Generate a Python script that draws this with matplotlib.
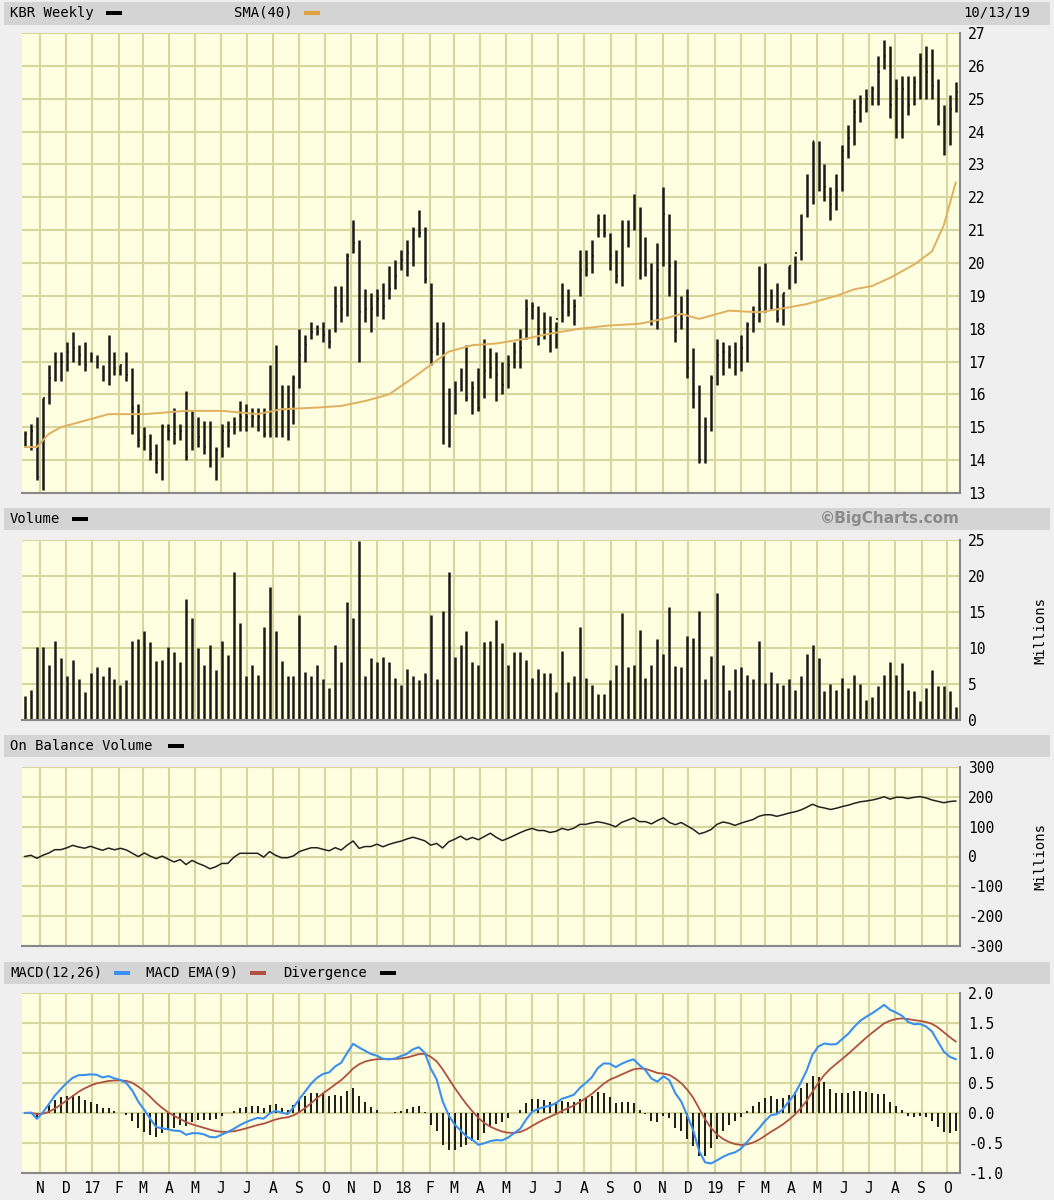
import numpy as np
import pandas as pd
import matplotlib
matplotlib.use("Agg")
import matplotlib.pyplot as plt
import matplotlib.dates as mdates
from matplotlib.patches import Rectangle

highs = [14.9,15.1,15.3,15.9,16.9,17.3,17.3,17.6,17.9,17.5,17.6,17.3,17.2,16.9,17.8,17.3,16.9,17.3,16.8,15.7,
         15.0,14.8,14.5,15.1,15.1,15.6,15.1,16.1,15.5,15.3,15.2,15.2,14.4,15.1,15.2,15.3,15.8,15.7,15.6,15.6,
         15.6,16.9,17.5,16.3,16.3,16.6,18.0,17.8,18.2,18.1,18.2,18.0,19.3,19.3,20.3,21.3,20.7,19.2,19.1,19.2,
         19.4,19.9,20.1,20.4,20.7,21.1,21.6,21.1,19.4,18.2,18.2,16.2,16.4,16.8,17.5,16.4,16.8,17.7,17.4,17.3,
         17.0,17.2,17.6,18.0,18.9,18.8,18.7,18.5,18.4,18.2,19.4,19.2,18.9,20.4,20.4,20.7,21.5,21.5,20.9,20.4,
         21.3,21.3,22.1,21.7,20.8,20.0,20.6,22.3,21.5,20.1,19.0,19.2,17.4,16.3,15.3,16.6,17.7,17.6,17.5,17.6,
         17.8,18.2,18.7,19.9,20.0,19.2,19.4,19.1,19.9,20.2,21.5,22.7,23.7,23.7,23.0,22.3,22.7,23.6,24.2,25.0,
         25.1,25.3,25.4,26.3,26.8,26.6,25.6,25.7,25.7,25.7,26.4,26.6,26.5,25.6,24.8,25.1,25.5]
lows = [14.4,14.3,13.4,13.1,15.7,16.4,16.4,16.7,17.0,16.9,16.7,17.0,16.8,16.4,16.3,16.6,16.6,16.4,14.8,14.4,
        14.3,14.0,13.6,13.4,14.6,14.5,14.6,14.0,14.3,14.4,14.2,13.8,13.4,14.1,14.4,14.8,14.9,14.9,15.0,14.9,
        14.7,14.7,14.7,14.7,14.6,15.1,16.2,17.0,17.7,17.8,17.6,17.4,17.9,18.2,18.4,20.3,17.0,18.2,17.9,18.4,
        18.3,18.9,19.2,19.8,19.6,19.9,20.8,19.4,16.9,17.2,14.5,14.4,15.4,16.1,15.8,15.4,15.5,15.9,16.5,15.8,
        16.0,16.2,16.8,16.8,17.7,18.3,17.5,17.7,17.3,17.4,18.2,18.4,18.1,19.0,19.6,19.7,20.8,20.8,19.8,19.4,
        19.3,20.5,21.0,19.5,19.6,18.1,18.0,19.9,19.0,17.6,18.0,16.5,15.6,13.9,13.9,14.9,16.3,16.6,16.8,16.6,
        16.7,17.0,17.9,18.2,18.5,18.6,18.2,18.1,19.2,19.4,20.1,21.4,21.8,22.2,21.9,21.3,21.6,22.2,23.2,23.6,
        24.3,24.6,24.8,24.8,25.9,24.4,23.8,23.8,24.5,24.8,25.0,25.0,25.0,24.2,23.3,23.6,24.6]
closes = [14.8,14.9,13.5,15.9,16.5,17.0,17.0,17.3,17.4,17.2,16.9,17.1,17.0,16.6,17.4,16.8,16.9,16.6,15.6,14.6,
          14.7,14.2,13.9,15.0,14.9,14.8,14.9,14.1,15.0,14.7,14.4,14.0,14.3,14.9,14.9,15.1,15.3,15.3,15.3,15.3,
          14.8,16.0,15.7,14.9,14.9,16.5,17.2,17.5,17.9,17.9,17.8,17.6,18.7,18.6,20.2,20.6,18.5,18.6,18.6,18.9,
          18.7,19.2,19.6,20.1,20.3,21.0,20.9,19.5,17.3,17.7,15.0,15.7,16.0,16.3,15.9,16.2,15.6,16.7,16.8,16.6,
          16.3,16.9,17.3,17.4,18.6,18.7,18.0,18.0,17.9,18.3,18.8,18.5,18.7,19.8,19.8,20.2,21.3,20.9,20.2,19.6,
          21.0,21.1,21.2,19.8,19.8,19.0,19.8,21.5,19.9,17.9,18.3,16.8,16.0,14.0,15.0,16.5,17.2,17.3,17.2,17.0,
          17.4,18.1,18.4,18.6,19.0,19.0,18.3,19.1,19.9,20.3,21.4,22.2,23.7,22.9,22.3,21.8,22.2,23.4,23.8,24.6,
          24.9,25.0,25.3,25.8,26.3,24.8,25.3,25.3,24.8,25.5,26.2,25.8,25.4,24.3,24.0,24.7,25.2]
volume = [3.4,4.2,10.2,10.2,7.7,11.0,8.6,6.1,8.4,5.7,3.9,6.5,7.3,6.1,7.3,5.7,4.9,5.5,11.0,11.3,
          12.3,10.8,8.2,8.4,10.2,9.4,8.0,16.8,14.1,10.0,7.7,10.4,6.9,11.0,9.0,20.5,13.5,6.1,7.7,6.3,
          12.9,18.5,12.3,8.2,6.1,6.1,14.6,6.7,6.1,7.6,5.7,4.5,10.4,8.0,16.4,14.1,24.8,6.1,8.6,8.0,
          8.8,8.0,5.9,4.9,7.1,6.1,5.5,6.5,14.6,5.7,15.2,20.5,8.8,10.4,12.3,8.0,7.7,10.8,11.0,13.9,
          10.7,7.7,9.4,9.4,8.4,5.9,7.1,6.5,6.5,3.9,9.6,5.3,6.1,12.9,5.9,4.9,3.6,3.6,5.5,7.7,
          14.9,7.3,7.7,12.5,5.9,7.6,11.3,9.2,15.7,7.5,7.3,11.6,11.4,15.1,5.7,8.9,17.6,7.7,4.2,7.1,
          7.3,6.3,5.7,11.0,5.2,6.7,5.2,4.9,5.7,4.2,6.1,9.2,10.4,8.6,4.0,5.0,4.2,5.8,4.4,6.3,
          5.0,2.8,3.2,4.7,6.3,8.1,6.3,7.9,4.2,4.0,2.6,4.4,6.9,4.7,4.7,4.0,1.8]
sma_dates = ["2016-10-14","2016-10-28","2016-11-11","2016-11-25","2016-12-23","2017-01-20","2017-03-03","2017-04-21",
             "2017-06-02","2017-07-14","2017-08-11","2017-09-22","2017-10-20","2017-11-17","2017-12-15","2018-01-12",
             "2018-02-02","2018-02-23","2018-03-23","2018-04-20","2018-05-25","2018-06-22","2018-07-27","2018-08-31",
             "2018-10-05","2018-11-02","2018-11-23","2018-12-14","2019-01-18","2019-02-22","2019-03-29","2019-04-19",
             "2019-05-24","2019-06-14","2019-07-05","2019-07-26","2019-08-23","2019-09-13","2019-09-27","2019-10-11"]
sma_vals = [14.4,14.4,14.8,15.0,15.2,15.4,15.4,15.5,15.5,15.4,15.55,15.6,15.65,15.8,16.0,16.5,
            16.9,17.3,17.5,17.55,17.7,17.85,18.0,18.1,18.15,18.3,18.45,18.3,18.55,18.5,18.65,18.75,
            19.0,19.2,19.3,19.55,19.95,20.35,21.15,22.45]
month_labels = ["N","D","17","F","M","A","M","J","J","A","S","O","N","D","18","F","M","A","M","J","J","A","S","O",
                "N","D","19","F","M","A","M","J","J","A","S","O"]

dates = pd.date_range("2016-10-14", periods=len(closes), freq="7D")
x = mdates.date2num(dates)
c = pd.Series(closes)
v = np.array(volume)
obv = np.concatenate([[0], np.cumsum(np.sign(np.diff(closes)) * v[1:])])
macd = c.ewm(span=12, adjust=False).mean() - c.ewm(span=26, adjust=False).mean()
sig = macd.ewm(span=9, adjust=False).mean()
div = macd - sig

W, H = 1054, 1200
fig = plt.figure(figsize=(W/100, H/100), dpi=100, facecolor="#efefef")
plt.rcParams['font.family'] = ['DejaVu Sans Mono']
BG = "#fefee0"; GRID = "#d6d6a0"
FS = 9.5

def rect(l, t, r, b):
    return [l/W, 1-b/H, (r-l)/W, (b-t)/H]

# header bars
for t, b in [(2, 25), (508, 530), (735, 757), (962, 984)]:
    fig.patches.append(Rectangle((4/W, 1-b/H), (1050-4)/W, (b-t)/H, transform=fig.transFigure,
                                 facecolor="#d4d4d4", edgecolor="none"))

month_starts = mdates.date2num(pd.date_range("2016-11-01", "2019-10-01", freq="MS"))
xlo = x[0] - 3.5; xhi = x[-1] + 5

def setup(ax, ylim, yticks, ylabels):
    ax.set_facecolor(BG)
    ax.set_xlim(xlo, xhi); ax.set_ylim(*ylim)
    for m in month_starts:
        ax.axvline(m, color=GRID, lw=1.5, zorder=0)
    for yv in yticks:
        ax.axhline(yv, color=GRID, lw=1.5, zorder=0)
    ax.set_yticks(yticks); ax.set_yticklabels(ylabels)
    ax.yaxis.tick_right()
    ax.tick_params(axis='y', length=0, labelsize=FS+1, pad=6)
    ax.set_xticks([])
    for s in ax.spines.values():
        s.set_visible(False)
    ax.spines['bottom'].set_visible(True); ax.spines['bottom'].set_color("#888888"); ax.spines['bottom'].set_linewidth(1.5)
    ax.spines['right'].set_visible(True); ax.spines['right'].set_color("#888888"); ax.spines['right'].set_linewidth(1.5)

# price
ax1 = fig.add_axes(rect(22, 33, 960, 493))
pt = list(range(13, 28))
setup(ax1, (13, 27), pt, [str(p) for p in pt])
ax1.vlines(x, lows, highs, color="#1a1a1a", lw=1.8)
ax1.hlines(closes, x, x + 2.2, color="#1a1a1a", lw=1.2)
ax1.plot(mdates.date2num(pd.to_datetime(sma_dates)), sma_vals, color="#e0b060", lw=1.4)

# volume
ax2 = fig.add_axes(rect(22, 540, 960, 720))
setup(ax2, (0, 25), [0, 5, 10, 15, 20, 25], ["0", "5", "10", "15", "20", "25"])
ax2.vlines(x, 0, volume, color="#1a1a1a", lw=1.8)

# OBV
ax3 = fig.add_axes(rect(22, 767, 960, 946))
ot = [-300, -200, -100, 0, 100, 200, 300]
setup(ax3, (-300, 300), ot, [str(o) for o in ot])
ax3.plot(x, obv, color="#222222", lw=1.1)

# MACD
ax4 = fig.add_axes(rect(22, 993, 960, 1173))
mt = [-1.0, -0.5, 0.0, 0.5, 1.0, 1.5, 2.0]
setup(ax4, (-1.0, 2.0), mt, [f"{m:.1f}" for m in mt])
ax4.vlines(x, 0, div, color="#1a1a1a", lw=1.4)
ax4.plot(x, sig, color="#b05040", lw=1.3)
ax4.plot(x, macd, color="#3a90f0", lw=1.5)
ax4.set_xticks(month_starts)
ax4.set_xticklabels(month_labels)
ax4.tick_params(axis='x', length=0, labelsize=FS+1, pad=6)

def ft(px, py, s, **kw):
    fig.text(px/W, 1-py/H, s, fontsize=FS+0.5, va="center", **kw)
def dash(px, py, col):
    fig.patches.append(Rectangle((px/W, 1-(py+2)/H), 16/W, 4/H, transform=fig.transFigure,
                                 facecolor=col, edgecolor="none"))

ft(10, 13, "KBR Weekly"); dash(106, 13, "#000000")
ft(234, 13, "SMA(40)"); dash(304, 13, "#e0a040")
ft(1030, 13, "10/13/19", ha="right")
ft(10, 519, "Volume"); dash(72, 519, "#000000")
fig.text(960/W, 1-519/H, "©BigCharts.com", fontsize=FS+1.5, va="center", ha="right",
         color="#8a8a8a", fontweight="bold", family="DejaVu Sans")
ft(10, 746, "On Balance Volume"); dash(168, 746, "#000000")
ft(10, 973, "MACD(12,26)"); dash(114, 973, "#3a90f0")
ft(146, 973, "MACD EMA(9)"); dash(250, 973, "#b05040")
ft(283, 973, "Divergence"); dash(380, 973, "#000000")
for yy in (630, 856):
    fig.text(1040/W, 1-yy/H, "Millions", rotation=90, fontsize=FS+0.5, va="center", ha="center")

fig.savefig("out.png", dpi=100, facecolor=fig.get_facecolor())
